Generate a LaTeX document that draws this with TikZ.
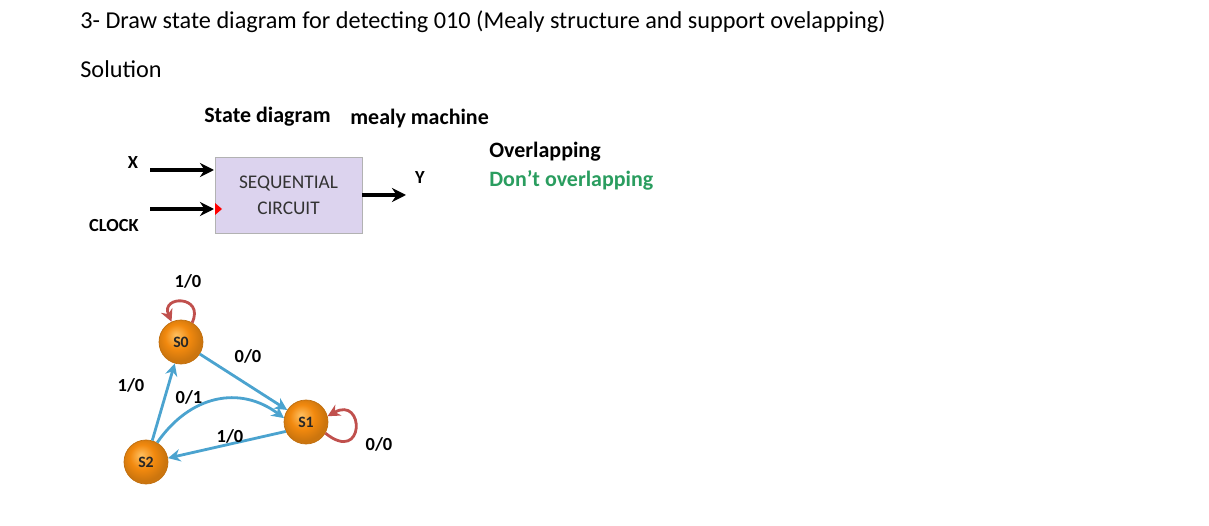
\documentclass[tikz,border=0pt]{standalone}
\usepackage{fontspec}
\setmainfont{Carlito}
\usetikzlibrary{arrows.meta,shapes.geometric}
\definecolor{eblue}{HTML}{4BA3CF}
\definecolor{lred}{HTML}{C0504D}
\definecolor{dgreen}{HTML}{2A9D5F}
\definecolor{boxfill}{HTML}{DCD3EE}
\definecolor{orlight}{HTML}{FFC060}
\definecolor{ordark}{HTML}{F08A10}
\pgfdeclareradialshading{orball}{\pgfpoint{-6bp}{8bp}}{color(0bp)=(orlight);color(14bp)=(ordark!90!orange);color(25bp)=(ordark!85!black);color(50bp)=(ordark!85!black)}
\begin{document}
\begin{tikzpicture}[x=0.02cm,y=-0.02cm,
  txt/.style={inner sep=0pt,font=\fontsize{13.8}{15}\selectfont},
  btxt/.style={inner sep=0pt,font=\fontsize{12.5}{14}\selectfont\bfseries},
  stxt/.style={inner sep=0pt,font=\fontsize{10.5}{12}\selectfont\bfseries},
  state/.style={circle,minimum size=44*0.02cm,inner sep=0pt,draw=ordark!80!black,shading=orball,font=\fontsize{9}{10}\selectfont\bfseries,text=black!85},
  arr/.style={-{Stealth[length=8pt,width=8pt]},line width=2pt},
  edge/.style={-{Stealth[length=7pt,width=7pt]},line width=1.6pt,draw=eblue},
  loopst/.style={-{Stealth[length=7pt,width=7pt]},line width=1.6pt,draw=lred}]
\useasboundingbox (0,0) rectangle (1209,526);
\node[txt,anchor=west] (title) at (80,22) {3- Draw state diagram for detecting 010 (Mealy structure and support ovelapping)};
\node[txt,anchor=west] (sol) at (80,69) {Solution};
\node[btxt,anchor=west] (h1) at (204,117) {State diagram};
\node[btxt,anchor=west] (h2) at (350,119) {mealy machine};
\node[btxt,anchor=west] (ov) at (489,152) {Overlapping};
\node[btxt,anchor=west,text=dgreen] (dov) at (489,180) {Don’t overlapping};
\node[draw=gray!60,fill=boxfill,minimum width=147*0.02cm,minimum height=76*0.02cm,inner sep=0pt,align=center,font=\fontsize{11}{15}\selectfont,text=black!80] (box) at (288.5,195) {SEQUENTIAL\\CIRCUIT};
\node[stxt] (X) at (133,163) {X};
\node[stxt] (clk) at (114,226) {CLOCK};
\node[stxt] (Y) at (420,178) {Y};
\coordinate (xs) at (150,170); \coordinate (xe) at (214,170);
\coordinate (cs) at (150,209); \coordinate (ce) at (214,209);
\coordinate (ys) at (362,195); \coordinate (ye) at (406,195);
\draw[arr] (xs) -- (xe);
\draw[arr] (cs) -- (ce);
\draw[arr] (ys) -- (ye);
\fill[red] (215,203) -- (222,209) -- (215,215) -- cycle;
\node[state] (S0) at (181,342) {S0};
\node[state] (S1) at (306,422) {S1};
\node[state] (S2) at (146,462) {S2};
\draw[loopst] (S0.60) .. controls (205,295) and (160,295) .. (S0.115);
\node[stxt] (l00) at (188,281) {1/0};
\draw[loopst] (S1.-30) .. controls (365,465) and (365,395) .. (S1.15);
\node[stxt] (l11) at (379,444) {0/0};
\draw[edge] (S0) -- (S1);
\node[stxt] (l01) at (248,356) {0/0};
\draw[edge] (S2) -- (S0);
\node[stxt] (l20) at (131,385) {1/0};
\draw[edge] (S2.60) .. controls (190,395) and (240,385) .. (S1.170);
\node[stxt] (l21) at (189,397) {0/1};
\draw[edge] (S1.205) -- (S2.10);
\node[stxt] (l12) at (230,436) {1/0};
\end{tikzpicture}
\end{document}
